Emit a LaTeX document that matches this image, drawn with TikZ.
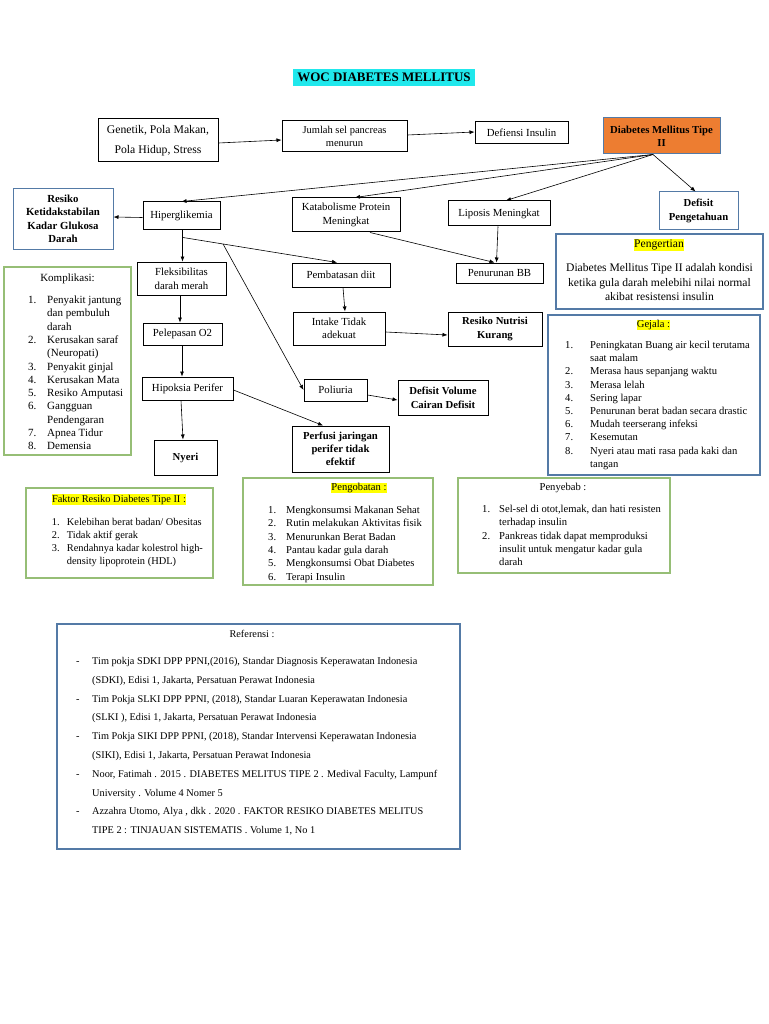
\documentclass[tikz,border=0pt]{standalone}
\usepackage{fontspec}
\setmainfont{Liberation Serif}
\usetikzlibrary{arrows.meta,calc}
\definecolor{bluebd}{RGB}{84,122,166}
\definecolor{greenbd}{RGB}{150,190,118}
\definecolor{dmorange}{RGB}{237,125,49}
\definecolor{titlecyan}{RGB}{32,232,236}
\definecolor{hlyellow}{RGB}{255,255,0}
\tikzset{
  fbox/.style={draw=black, line width=1pt, fill=white, align=center, inner sep=0pt, font=\fontsize{10.8}{14}\selectfont},
  bbox/.style={fbox, font=\bfseries\fontsize{10.7}{13.5}\selectfont},
  bluebox/.style={draw=bluebd, line width=1.2pt, inner sep=0pt},
  greenbox/.style={draw=greenbd, line width=1.2pt, inner sep=0pt},
  arr/.style={-{Latex[length=5pt,width=4pt]}, line width=0.6pt},
  lst/.style={inner sep=0pt, anchor=base west},
  hl/.style={fill=hlyellow, inner xsep=0.3pt, inner ysep=0.6pt},
  ttl/.style={inner sep=0pt},
}
\begin{document}
\begin{tikzpicture}[x=1pt,y=-1pt]
\useasboundingbox (0,0) rectangle (768,1024);
\fill[white] (0,0) rectangle (768,1024);

% title
\node[fill=titlecyan, minimum width=182pt, minimum height=17pt, inner sep=0pt, font=\bfseries\fontsize{13}{15}\selectfont] (title) at (384,77.5) {WOC DIABETES MELLITUS};

% flow boxes
\node[fbox, minimum width=120pt, minimum height=43pt, font=\fontsize{11.7}{20}\selectfont] (gen) at (158,140.5) {Genetik, Pola Makan,\\Pola Hidup, Stress};
\node[fbox, minimum width=125pt, minimum height=31pt, font=\fontsize{10.5}{13}\selectfont] (jum) at (344.5,136.5) {Jumlah sel pancreas\\menurun};
\node[fbox, minimum width=93pt, minimum height=22pt] (def) at (521.5,133) {Defiensi Insulin};
\node[bbox, draw=bluebd, fill=dmorange, minimum width=117pt, minimum height=36pt, font=\bfseries\fontsize{10.7}{13}\selectfont] (dm) at (661.5,136) {Diabetes Mellitus Tipe\\II};
\node[bbox, draw=bluebd, minimum width=79pt, minimum height=38pt] (dp) at (698.5,211) {Defisit\\Pengetahuan};
\node[fbox, minimum width=77pt, minimum height=28pt] (hip) at (181.5,216) {Hiperglikemia};
\node[bbox, draw=bluebd, minimum width=100pt, minimum height=60pt, font=\bfseries\fontsize{10.8}{13.5}\selectfont] (rkg) at (63,219) {Resiko\\Ketidakstabilan\\Kadar Glukosa\\Darah};
\node[fbox, minimum width=108pt, minimum height=34pt] (kat) at (346,215) {Katabolisme Protein\\Meningkat};
\node[fbox, minimum width=102pt, minimum height=25pt] (lip) at (499,213.5) {Liposis Meningkat};
\node[fbox, minimum width=87pt, minimum height=20pt] (pbb) at (499.5,273) {Penurunan BB};
\node[fbox, minimum width=98pt, minimum height=24pt] (pem) at (341,275) {Pembatasan diit};
\node[fbox, minimum width=89pt, minimum height=33pt] (flek) at (181.5,278.5) {Fleksibilitas\\darah merah};
\node[fbox, minimum width=92pt, minimum height=33pt, font=\fontsize{10.8}{13.5}\selectfont] (intk) at (339,328.5) {Intake Tidak\\adekuat};
\node[bbox, minimum width=94pt, minimum height=34pt, font=\bfseries\fontsize{10.7}{14.5}\selectfont] (rnk) at (495,329) {Resiko Nutrisi\\Kurang};
\node[fbox, minimum width=79pt, minimum height=22pt] (pel) at (182.5,334) {Pelepasan O2};
\node[fbox, minimum width=91pt, minimum height=23pt] (hipo) at (187.5,388.5) {Hipoksia Perifer};
\node[fbox, minimum width=63pt, minimum height=22pt] (pol) at (335.5,390) {Poliuria};
\node[bbox, minimum width=90pt, minimum height=35pt, font=\bfseries\fontsize{10.7}{14}\selectfont] (dvc) at (443,397.5) {Defisit Volume\\Cairan Defisit};
\node[bbox, minimum width=63pt, minimum height=35pt] (nyeri) at (185.5,457.5) {Nyeri};
\node[bbox, minimum width=97pt, minimum height=46pt, font=\bfseries\fontsize{10.7}{13}\selectfont] (perf) at (340.5,449) {Perfusi jaringan\\perifer tidak\\efektif};

% connectors
\draw[arr] ([yshift=-2.5pt]gen.east) -- ([yshift=-3.5pt]jum.west);
\draw[arr] ([yshift=1.5pt]jum.east) -- ([yshift=1pt]def.west);
\draw[arr] ([xshift=-8.5pt]dm.south) -- (hip.north);
\draw[arr] ([xshift=-8.5pt]dm.south) -- ([xshift=9pt]kat.north);
\draw[arr] ([xshift=-8.5pt]dm.south) -- ([xshift=7pt]lip.north);
\draw[arr] ([xshift=-8.5pt]dm.south) -- ([xshift=-3pt]dp.north);
\draw[arr] ([yshift=-1.5pt]hip.west) -- ([yshift=2pt]rkg.east);
\draw[arr] ([xshift=1pt]hip.south) -- ([xshift=1pt]flek.north);
\coordinate (hjunc) at ($(hip.south)+(1.5,7)$);
\draw[arr] (hjunc) -- ([xshift=-4pt]pem.north);
\coordinate (pjunc) at ($(hjunc)!0.26!([xshift=-4pt]pem.north)$);
\draw[arr] (pjunc) -- (pol.west);
\draw[arr] ([xshift=24pt]kat.south) -- ([xshift=-5pt]pbb.north);
\draw[arr] ([xshift=-1pt]lip.south) -- ([xshift=-3pt]pbb.north);
\draw[arr] ([xshift=2pt]pem.south) -- ([xshift=6pt]intk.north);
\draw[arr] ([yshift=-3.5pt]intk.east) -- ([yshift=-6pt]rnk.west);
\draw[arr] ([xshift=-1.5pt]flek.south) -- ([xshift=-2.5pt]pel.north);
\draw[arr] ([xshift=-0.5pt]pel.south) -- ([xshift=-5.5pt]hipo.north);
\draw[arr] ([xshift=-6.5pt]hipo.south) -- ([xshift=-2.5pt]nyeri.north);
\draw[arr] ([yshift=-1.5pt]hipo.east) -- ([xshift=-17.5pt]perf.north);
\draw[arr] ([yshift=-5pt]pol.east) -- ([yshift=-2.5pt]dvc.west);

% info boxes
\node[greenbox, minimum width=127pt, minimum height=188pt] (kom) at (67.5,361) {};
\node[bluebox, minimum width=207pt, minimum height=75pt] (peng) at (659.5,271.5) {};
\node[bluebox, minimum width=212pt, minimum height=160pt] (gej) at (654,395) {};
\node[greenbox, minimum width=187pt, minimum height=90pt] (fak) at (119.5,533) {};
\node[greenbox, minimum width=190pt, minimum height=107pt] (obat) at (338,531.5) {};
\node[greenbox, minimum width=212pt, minimum height=95pt] (sebab) at (564,525.5) {};
\node[bluebox, minimum width=403pt, minimum height=225pt] (ref) at (258.5,736.5) {};

% Komplikasi
\node[ttl, font=\fontsize{11}{13}\selectfont] (komt) at (67.5,279) {Komplikasi:};
\node[lst, font=\fontsize{11}{13.3}\selectfont] (koml) at (28,303.5) {\begin{tabular}[t]{@{}p{19pt}@{}l@{}}
1. & Penyakit jantung\\ & dan pembuluh\\ & darah\\
2. & Kerusakan saraf\\ & (Neuropati)\\
3. & Penyakit ginjal\\
4. & Kerusakan Mata\\
5. & Resiko Amputasi\\
6. & Gangguan\\ & Pendengaran\\
7. & Apnea Tidur\\
8. & Demensia\end{tabular}};

% Pengertian
\node[hl, font=\fontsize{11.6}{14}\selectfont] (pengt) at (659,245) {Pengertian};
\node[ttl, align=center, font=\fontsize{11.6}{14.5}\selectfont] (pengb) at (659.5,282.5) {Diabetes Mellitus Tipe II adalah kondisi\\ketika gula darah melebihi nilai normal\\akibat resistensi insulin};

% Gejala
\node[hl, font=\fontsize{10.6}{13}\selectfont] (gejt) at (653.5,325) {Gejala :};
\node[lst, font=\fontsize{10.6}{13.2}\selectfont] (gejl) at (565,348.5) {\begin{tabular}[t]{@{}p{25pt}@{}l@{}}
1. & Peningkatan Buang air kecil terutama\\ & saat malam\\
2. & Merasa haus sepanjang waktu\\
3. & Merasa lelah\\
4. & Sering lapar\\
5. & Penurunan berat badan secara drastic\\
6. & Mudah teerserang infeksi\\
7. & Kesemutan\\
8. & Nyeri atau mati rasa pada kaki dan\\ & tangan\end{tabular}};

% Faktor resiko
\node[hl, anchor=west, font=\fontsize{10.4}{13}\selectfont] (fakt) at (51.5,499.5) {Faktor Resiko Diabetes Tipe II :};
\node[lst, font=\fontsize{10.4}{13.3}\selectfont] (fakl) at (51.7,525) {\begin{tabular}[t]{@{}p{15pt}@{}l@{}}
1. & Kelebihan berat badan/ Obesitas\\
2. & Tidak aktif gerak\\
3. & Rendahnya kadar kolestrol high-\\ & density lipoprotein (HDL)\end{tabular}};

% Pengobatan
\node[hl, font=\fontsize{10.6}{13}\selectfont] (obatt) at (359,488) {Pengobatan :};
\node[lst, font=\fontsize{10.6}{13.3}\selectfont] (obatl) at (268,513.5) {\begin{tabular}[t]{@{}p{18pt}@{}l@{}}
1. & Mengkonsumsi Makanan Sehat\\
2. & Rutin melakukan Aktivitas fisik\\
3. & Menurunkan Berat Badan\\
4. & Pantau kadar gula darah\\
5. & Mengkonsumsi Obat Diabetes\\
6. & Terapi Insulin\end{tabular}};

% Penyebab
\node[ttl, font=\fontsize{10.6}{13}\selectfont] (sebabt) at (563,488) {Penyebab :};
\node[lst, font=\fontsize{10.6}{13.3}\selectfont] (sebabl) at (482,512.5) {\begin{tabular}[t]{@{}p{17pt}@{}l@{}}
1. & Sel-sel di otot,lemak, dan hati resisten\\ & terhadap insulin\\
2. & Pankreas tidak dapat memproduksi\\ & insulit untuk mengatur kadar gula\\ & darah\end{tabular}};

% Referensi
\node[ttl, font=\fontsize{10.3}{13}\selectfont] (reft) at (252,634) {Referensi :};
\node[lst, font=\fontsize{10.3}{18.8}\selectfont] (refl) at (76,664.5) {\begin{tabular}[t]{@{}p{16pt}@{}l@{}}
- & Tim pokja SDKI DPP PPNI,(2016), Standar Diagnosis Keperawatan Indonesia\\
 & (SDKI), Edisi 1, Jakarta, Persatuan Perawat Indonesia\\
- & Tim Pokja SLKI DPP PPNI, (2018), Standar Luaran Keperawatan Indonesia\\
 & (SLKI ), Edisi 1, Jakarta, Persatuan Perawat Indonesia\\
- & Tim Pokja SIKI DPP PPNI, (2018), Standar Intervensi Keperawatan Indonesia\\
 & (SIKI), Edisi 1, Jakarta, Persatuan Perawat Indonesia\\
- & Noor, Fatimah . 2015 . DIABETES MELITUS TIPE 2 . Medival Faculty, Lampunf\\
 & University . Volume 4 Nomer 5\\
- & Azzahra Utomo, Alya , dkk . 2020 . FAKTOR RESIKO DIABETES MELITUS\\
 & TIPE 2 : TINJAUAN SISTEMATIS . Volume 1, No 1\end{tabular}};
\end{tikzpicture}
\end{document}
